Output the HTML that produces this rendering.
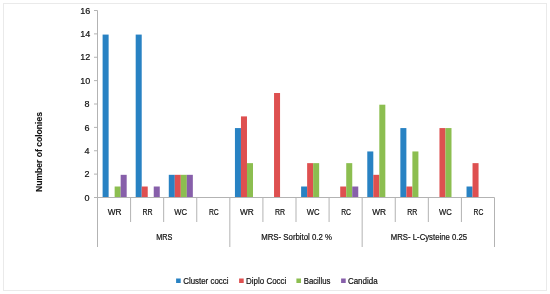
<!DOCTYPE html>
<html><head><meta charset="utf-8"><style>
html,body{margin:0;padding:0;background:#fff;}
body{width:550px;height:294px;overflow:hidden;position:relative;}
svg{position:absolute;left:0;top:0;}
.t{font-family:'Liberation Sans', Arial, sans-serif;font-size:9px;fill:#111;stroke:#111;stroke-width:0.2px;}
.yt{font-size:9.5px;font-weight:bold;stroke-width:0.1px;}
</style></head><body>
<svg width="550" height="294" viewBox="0 0 550 294">
<rect x="3.5" y="3.5" width="543" height="287" fill="#fff" stroke="#eaeaea" stroke-width="1"/>
<rect x="102.61" y="34.58" width="6.02" height="162.93" fill="#2882c3"/>
<rect x="114.64" y="186.51" width="6.02" height="10.99" fill="#8cbe50"/>
<rect x="120.66" y="174.82" width="6.02" height="22.68" fill="#875faa"/>
<rect x="135.69" y="34.58" width="6.02" height="162.93" fill="#2882c3"/>
<rect x="141.71" y="186.51" width="6.02" height="10.99" fill="#de5050"/>
<rect x="153.74" y="186.51" width="6.02" height="10.99" fill="#875faa"/>
<rect x="168.78" y="174.82" width="6.02" height="22.68" fill="#2882c3"/>
<rect x="174.79" y="174.82" width="6.02" height="22.68" fill="#de5050"/>
<rect x="180.81" y="174.82" width="6.02" height="22.68" fill="#8cbe50"/>
<rect x="186.82" y="174.82" width="6.02" height="22.68" fill="#875faa"/>
<rect x="234.94" y="128.07" width="6.02" height="69.43" fill="#2882c3"/>
<rect x="240.96" y="116.39" width="6.02" height="81.11" fill="#de5050"/>
<rect x="246.97" y="163.14" width="6.02" height="34.36" fill="#8cbe50"/>
<rect x="274.04" y="93.01" width="6.02" height="104.49" fill="#de5050"/>
<rect x="301.11" y="186.51" width="6.02" height="10.99" fill="#2882c3"/>
<rect x="307.13" y="163.14" width="6.02" height="34.36" fill="#de5050"/>
<rect x="313.14" y="163.14" width="6.02" height="34.36" fill="#8cbe50"/>
<rect x="340.21" y="186.51" width="6.02" height="10.99" fill="#de5050"/>
<rect x="346.23" y="163.14" width="6.02" height="34.36" fill="#8cbe50"/>
<rect x="352.24" y="186.51" width="6.02" height="10.99" fill="#875faa"/>
<rect x="367.28" y="151.45" width="6.02" height="46.05" fill="#2882c3"/>
<rect x="373.29" y="174.82" width="6.02" height="22.68" fill="#de5050"/>
<rect x="379.31" y="104.70" width="6.02" height="92.80" fill="#8cbe50"/>
<rect x="400.36" y="128.07" width="6.02" height="69.43" fill="#2882c3"/>
<rect x="406.38" y="186.51" width="6.02" height="10.99" fill="#de5050"/>
<rect x="412.39" y="151.45" width="6.02" height="46.05" fill="#8cbe50"/>
<rect x="439.46" y="128.07" width="6.02" height="69.43" fill="#de5050"/>
<rect x="445.48" y="128.07" width="6.02" height="69.43" fill="#8cbe50"/>
<rect x="466.53" y="186.51" width="6.02" height="10.99" fill="#2882c3"/>
<rect x="472.54" y="163.14" width="6.02" height="34.36" fill="#de5050"/>
<line x1="97.5" y1="10.5" x2="97.5" y2="247" stroke="#b3b3b3" stroke-width="1"/>
<line x1="97.5" y1="197.5" x2="494.5" y2="197.5" stroke="#b3b3b3" stroke-width="1"/>
<line x1="94" y1="197.50" x2="97.5" y2="197.50" stroke="#b3b3b3" stroke-width="1"/>
<text x="89.4" y="200.70" text-anchor="end" class="t">0</text>
<line x1="94" y1="174.12" x2="97.5" y2="174.12" stroke="#b3b3b3" stroke-width="1"/>
<text x="89.4" y="177.32" text-anchor="end" class="t">2</text>
<line x1="94" y1="150.75" x2="97.5" y2="150.75" stroke="#b3b3b3" stroke-width="1"/>
<text x="89.4" y="153.95" text-anchor="end" class="t">4</text>
<line x1="94" y1="127.38" x2="97.5" y2="127.38" stroke="#b3b3b3" stroke-width="1"/>
<text x="89.4" y="130.57" text-anchor="end" class="t">6</text>
<line x1="94" y1="104.00" x2="97.5" y2="104.00" stroke="#b3b3b3" stroke-width="1"/>
<text x="89.4" y="107.20" text-anchor="end" class="t">8</text>
<line x1="94" y1="80.62" x2="97.5" y2="80.62" stroke="#b3b3b3" stroke-width="1"/>
<text x="90.3" y="83.83" text-anchor="end" class="t">10</text>
<line x1="94" y1="57.25" x2="97.5" y2="57.25" stroke="#b3b3b3" stroke-width="1"/>
<text x="90.3" y="60.45" text-anchor="end" class="t">12</text>
<line x1="94" y1="33.88" x2="97.5" y2="33.88" stroke="#b3b3b3" stroke-width="1"/>
<text x="90.3" y="37.08" text-anchor="end" class="t">14</text>
<line x1="94" y1="10.50" x2="97.5" y2="10.50" stroke="#b3b3b3" stroke-width="1"/>
<text x="90.3" y="13.70" text-anchor="end" class="t">16</text>
<line x1="130.58" y1="197.5" x2="130.58" y2="222" stroke="#b3b3b3" stroke-width="1"/>
<line x1="163.67" y1="197.5" x2="163.67" y2="222" stroke="#b3b3b3" stroke-width="1"/>
<line x1="196.75" y1="197.5" x2="196.75" y2="222" stroke="#b3b3b3" stroke-width="1"/>
<line x1="229.83" y1="197.5" x2="229.83" y2="247" stroke="#b3b3b3" stroke-width="1"/>
<line x1="262.92" y1="197.5" x2="262.92" y2="222" stroke="#b3b3b3" stroke-width="1"/>
<line x1="296.0" y1="197.5" x2="296.0" y2="222" stroke="#b3b3b3" stroke-width="1"/>
<line x1="329.08" y1="197.5" x2="329.08" y2="222" stroke="#b3b3b3" stroke-width="1"/>
<line x1="362.17" y1="197.5" x2="362.17" y2="247" stroke="#b3b3b3" stroke-width="1"/>
<line x1="395.25" y1="197.5" x2="395.25" y2="222" stroke="#b3b3b3" stroke-width="1"/>
<line x1="428.33" y1="197.5" x2="428.33" y2="222" stroke="#b3b3b3" stroke-width="1"/>
<line x1="461.42" y1="197.5" x2="461.42" y2="222" stroke="#b3b3b3" stroke-width="1"/>
<line x1="494.5" y1="197.5" x2="494.5" y2="247" stroke="#b3b3b3" stroke-width="1"/>
<text x="107.64" y="215.3" textLength="13.8" lengthAdjust="spacingAndGlyphs" class="t">WR</text>
<text x="142.57" y="215.3" textLength="10.1" lengthAdjust="spacingAndGlyphs" class="t">RR</text>
<text x="174.31" y="215.3" textLength="12.8" lengthAdjust="spacingAndGlyphs" class="t">WC</text>
<text x="208.89" y="215.3" textLength="9.8" lengthAdjust="spacingAndGlyphs" class="t">RC</text>
<text x="239.97" y="215.3" textLength="13.8" lengthAdjust="spacingAndGlyphs" class="t">WR</text>
<text x="274.91" y="215.3" textLength="10.1" lengthAdjust="spacingAndGlyphs" class="t">RR</text>
<text x="306.64" y="215.3" textLength="12.8" lengthAdjust="spacingAndGlyphs" class="t">WC</text>
<text x="341.23" y="215.3" textLength="9.8" lengthAdjust="spacingAndGlyphs" class="t">RC</text>
<text x="372.31" y="215.3" textLength="13.8" lengthAdjust="spacingAndGlyphs" class="t">WR</text>
<text x="407.24" y="215.3" textLength="10.1" lengthAdjust="spacingAndGlyphs" class="t">RR</text>
<text x="438.98" y="215.3" textLength="12.8" lengthAdjust="spacingAndGlyphs" class="t">WC</text>
<text x="473.56" y="215.3" textLength="9.8" lengthAdjust="spacingAndGlyphs" class="t">RC</text>
<text x="156.17" y="239.9" textLength="16.2" lengthAdjust="spacingAndGlyphs" class="t">MRS</text>
<text x="261.20" y="239.9" textLength="70.8" lengthAdjust="spacingAndGlyphs" class="t">MRS- Sorbitol 0.2 %</text>
<text x="390.83" y="239.9" textLength="76.2" lengthAdjust="spacingAndGlyphs" class="t">MRS- L-Cysteine 0.25</text>
<text transform="translate(42,192) rotate(-90)" textLength="80" lengthAdjust="spacingAndGlyphs" class="t yt">Number of colonies</text>
<rect x="176.1" y="278.5" width="4.6" height="4.5" fill="#2882c3"/>
<text x="183.2" y="283.7" textLength="45.3" lengthAdjust="spacingAndGlyphs" class="t">Cluster cocci</text>
<rect x="239.1" y="278.5" width="4.6" height="4.5" fill="#de5050"/>
<text x="246.1" y="283.7" textLength="40.2" lengthAdjust="spacingAndGlyphs" class="t">Diplo Cocci</text>
<rect x="296.40000000000003" y="278.5" width="4.6" height="4.5" fill="#8cbe50"/>
<text x="303.7" y="283.7" textLength="26.8" lengthAdjust="spacingAndGlyphs" class="t">Bacillus</text>
<rect x="341.1" y="278.5" width="4.6" height="4.5" fill="#875faa"/>
<text x="347.9" y="283.7" textLength="29.8" lengthAdjust="spacingAndGlyphs" class="t">Candida</text>
</svg>
</body></html>
